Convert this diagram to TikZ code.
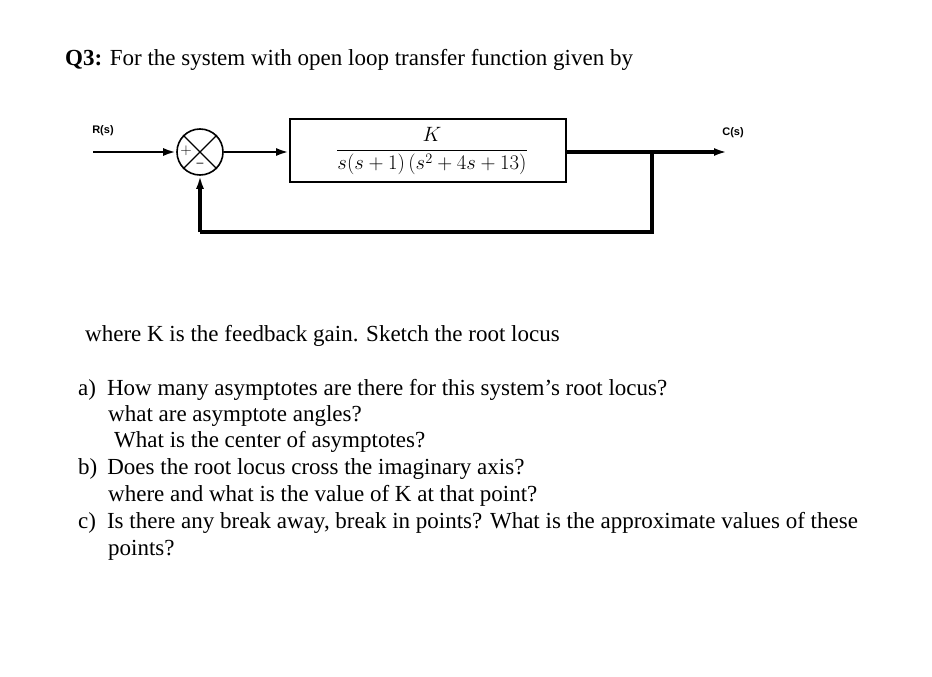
\documentclass[tikz,border=0pt]{standalone}
\usepackage{amsmath}
\usepackage{fontspec}
\setmainfont{Liberation Serif}
\newfontfamily\lab{Liberation Sans}
\usetikzlibrary{arrows.meta}
\begin{document}
\begin{tikzpicture}[x=1pt,y=-1pt,
  txt/.style={anchor=base west,inner sep=0,font=\fontsize{23}{27}\selectfont},
  sig/.style={line width=2.6pt,-{Latex[length=13pt,width=8pt]}},
  wire/.style={line width=3.4pt},
  lbl/.style={inner sep=0,font=\lab\bfseries\fontsize{11}{13}\selectfont}]
\useasboundingbox (0,0) rectangle (932,677);
\node[txt] (title) at (65,66) {\textbf{Q3:} For the system with open loop transfer function given by};
\node[lbl] (R) at (103,131) {R(s)};
\node[lbl] (C) at (733,133) {C(s)};
\coordinate (in) at (93,152);
\node[draw,circle,line width=1.6pt,minimum size=46pt,inner sep=0] (sum) at (200,152) {};
\draw[line width=1.3pt] (sum.north west)--(sum.south east) (sum.north east)--(sum.south west);
\node[font=\sffamily\fontsize{15}{15}\selectfont,inner sep=0] (plus) at (186,151) {+};
\node[font=\sffamily\fontsize{14}{14}\selectfont,inner sep=0] (minus) at (200,165) {--};
\node[draw,line width=1.8pt,minimum width=276pt,minimum height=63pt,inner sep=0] (G) at (428,150.5) {};
\node[inner sep=1pt,font=\fontsize{21}{24}\selectfont] (frac) at (432,151) {$\dfrac{K}{s(s+1)\,(s^2+4s+13)}$};
\coordinate (br) at (652,152);
\coordinate (out) at (727,152);
\draw[sig] (in) -- (sum.west);
\draw[sig] (sum.east) -- (G.west|-sum.east);
\draw[wire] (G.east|-br) -- (br);
\draw[sig,line width=3.4pt] (br) -- (out);
\draw[wire] (br) -- (652,232) -- (200,232) coordinate (fb);
\draw[sig,line width=3.4pt] (fb) -- (sum.south);
\node[txt] (t1) at (85,341) {where K is the feedback gain. Sketch the root locus};
\node[txt] (a) at (78,395) {a)\hspace{11pt}How many asymptotes are there for this system's root locus?};
\node[txt] (a2) at (108,421) {what are asymptote angles?};
\node[txt] (a3) at (114,447) {What is the center of asymptotes?};
\node[txt] (b) at (78,474) {b)\hspace{10pt}Does the root locus cross the imaginary axis?};
\node[txt] (b2) at (108,501) {where and what is the value of K at that point?};
\node[txt] (c) at (78,528) {c)\hspace{11pt}Is there any break away, break in points? What is the approximate values of these};
\node[txt] (c2) at (108,555) {points?};
\end{tikzpicture}
\end{document}
